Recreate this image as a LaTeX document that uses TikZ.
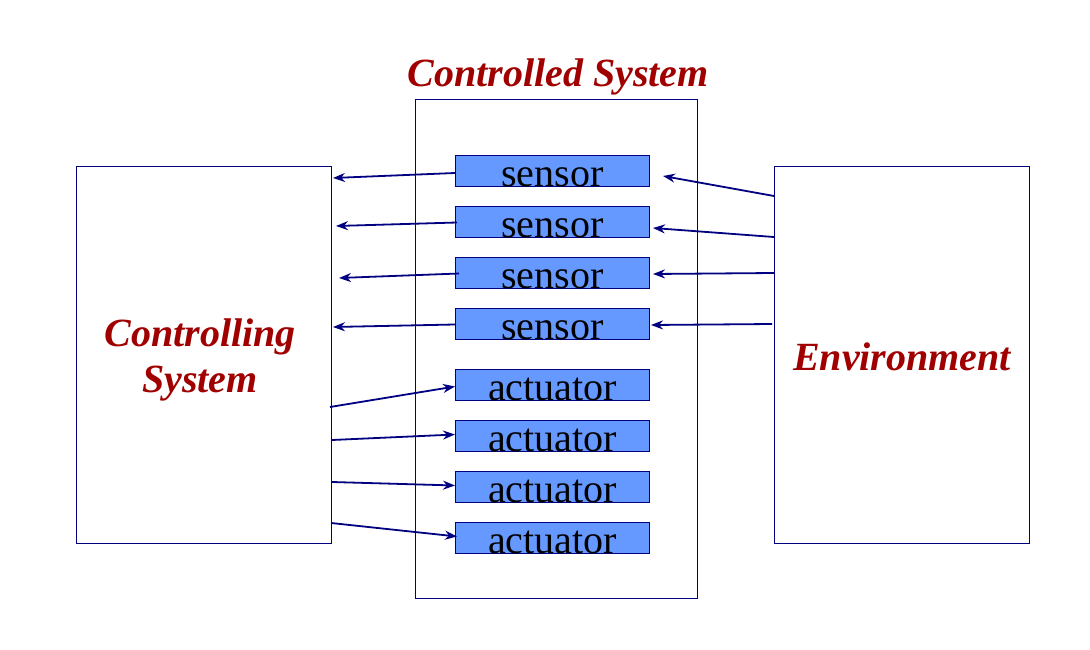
\documentclass[tikz,border=0pt]{standalone}
\usepackage{fontspec}
\setmainfont{Liberation Serif}
\usetikzlibrary{arrows.meta}
\definecolor{navy}{RGB}{0,0,128}
\definecolor{boxblue}{RGB}{102,153,255}
\definecolor{labelred}{RGB}{160,0,0}
\tikzset{
  x=1pt, y=-1pt,
  bigbox/.style={draw=navy, line width=1pt, fill=white, anchor=north west, inner sep=0pt},
  part/.style={draw=navy, line width=1pt, fill=boxblue, anchor=north west, inner sep=0pt,
    minimum width=194pt, minimum height=31pt, text height=31pt, text depth=0pt,
    font=\fontsize{40}{40}\selectfont},
  title/.style={text=labelred, font=\fontsize{40}{44}\selectfont\bfseries\itshape, align=center},
  conn/.style={draw=navy, line width=1.8pt, -{Stealth[length=12pt,width=9pt]}},
}
\begin{document}
\begin{tikzpicture}
\useasboundingbox (0,0) rectangle (1090,650);
% big boxes
\node[bigbox, minimum width=255pt, minimum height=377pt] (ctrl) at (76,166) {};
\node[bigbox, minimum width=282pt, minimum height=499pt] (sys) at (415,99) {};
\node[bigbox, minimum width=255pt, minimum height=377pt] (env) at (774,166) {};
% titles
\node[title, anchor=base] (systitle) at (558,87) {Controlled System};
\node[title, anchor=base] (ctrltitle) at (200,392) {Controlling\\[2pt]System};
\node[title, anchor=base] (envtitle) at (902,370) {Environment};
% sensors and actuators
\node[part] (s1) at (455,155) {sensor};
\node[part] (s2) at (455,206) {sensor};
\node[part] (s3) at (455,257) {sensor};
\node[part] (s4) at (455,308) {sensor};
\node[part] (a1) at (455,369) {actuator};
\node[part] (a2) at (455,420) {actuator};
\node[part] (a3) at (455,471) {actuator};
\node[part] (a4) at (455,522) {actuator};
% free arrow ends
\coordinate (c1) at (333,178);
\coordinate (c2) at (336,226);
\coordinate (c3) at (339,278);
\coordinate (c4) at (333,327);
\coordinate (e1) at (663,176);
\coordinate (e2) at (653,228);
\coordinate (e3) at (653,274);
\coordinate (e4) at (651,325);
% sensor -> controlling system
\draw[conn] ([yshift=-2pt]s1.west) -- (c1);
\draw[conn] ([xshift=2pt,yshift=-0.5pt]s2.west) -- (c2);
\draw[conn] ([xshift=4pt,yshift=-0.5pt]s3.west) -- (c3);
\draw[conn] ([yshift=-0.5pt]s4.west) -- (c4);
% environment -> sensor
\draw[conn] (env.west |- 0,196) -- (e1);
\draw[conn] (env.west |- 0,237) -- (e2);
\draw[conn] (env.west |- 0,273) -- (e3);
\draw[conn] ([xshift=-2pt]env.west |- 0,324) -- (e4);
% controlling system -> actuators
\draw[conn] ([xshift=-2pt]ctrl.east |- 0,407) -- ([yshift=-1.5pt]a1.west);
\draw[conn] (ctrl.east |- 0,440) -- ([yshift=1.5pt]a2.west);
\draw[conn] (ctrl.east |- 0,482) -- ([yshift=1.5pt]a3.west);
\draw[conn] ([xshift=-1pt]ctrl.east |- 0,523) -- ([xshift=2pt,yshift=1.5pt]a4.west);
\end{tikzpicture}
\end{document}
